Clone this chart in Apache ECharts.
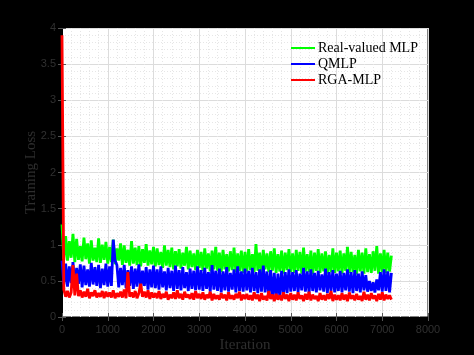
<!DOCTYPE html>
<html>
<head>
<meta charset="utf-8">
<script src="https://cdn.jsdelivr.net/npm/echarts@6/dist/echarts.min.js"></script>
<style>
  html, body { margin: 0; padding: 0; background: #000; }
  #chart { width: 474px; height: 355px; }
</style>
</head>
<body>
<div id="chart"></div>
<script>
// one sample every 40 iterations, 0..7200
const step = 40
const seriesNames = ['Real-valued MLP', 'QMLP', 'RGA-MLP']

const realMlp = [
  1.28, 0.80, 1.12, 0.78, 1.05, 0.82, 1.15, 0.76, 1.08, 0.79, 0.98, 0.77, 1.10, 0.80, 1.02, 0.74, 1.06, 0.78, 0.96, 0.76, 1.09, 0.75, 1.00, 0.79, 1.04, 0.74,
  0.97, 0.76, 1.07, 0.73, 0.95, 0.78, 1.02, 0.72, 0.99, 0.75, 0.93, 0.71, 1.05, 0.74, 0.96, 0.72, 0.98, 0.70, 0.94, 0.75, 1.01, 0.71, 0.92, 0.73, 0.97,
  0.70, 0.95, 0.72, 0.90, 0.68, 0.99, 0.71, 0.93, 0.69, 0.96, 0.66, 0.91, 0.70, 0.94, 0.67, 0.89, 0.71, 0.97, 0.66, 0.92, 0.69, 0.88, 0.65, 0.93, 0.68,
  0.90, 0.64, 0.95, 0.67, 0.88, 0.63, 0.92, 0.66, 0.97, 0.64, 0.89, 0.62, 0.93, 0.66, 0.87, 0.63, 0.91, 0.65, 0.96, 0.62, 0.88, 0.64, 0.92, 0.61, 0.90,
  0.63, 0.94, 0.65, 0.87, 0.62, 1.01, 0.64, 0.89, 0.61, 0.93, 0.66, 0.88, 0.62, 0.91, 0.64, 0.95, 0.61, 0.87, 0.63, 0.92, 0.60, 0.89, 0.65, 0.94, 0.62,
  0.88, 0.61, 0.93, 0.64, 0.90, 0.60, 0.96, 0.63, 0.87, 0.62, 0.92, 0.59, 0.89, 0.64, 0.94, 0.61, 0.88, 0.63, 0.91, 0.60, 0.86, 0.62, 0.95, 0.61, 0.89,
  0.63, 0.92, 0.60, 0.88, 0.64, 0.97, 0.61, 0.90, 0.62, 0.86, 0.59, 0.93, 0.63, 0.89, 0.60, 0.95, 0.62, 0.87, 0.61, 0.91, 0.64, 0.98, 0.60, 0.88, 0.62, 0.93, 0.61, 0.89, 0.63, 0.85
]

const qmlp = [
  0.78, 0.45, 0.74, 0.42, 0.70, 0.47, 0.76, 0.43, 0.68, 0.46, 0.73, 0.41, 0.71, 0.44, 0.66, 0.42, 0.75, 0.45, 0.69, 0.43, 0.72, 0.40, 0.67, 0.44, 0.74, 0.42,
  0.70, 0.43, 1.07, 0.78, 0.72, 0.41, 0.68, 0.44, 0.72, 0.40, 0.65, 0.43, 0.70, 0.39, 0.67, 0.42, 0.73, 0.40, 0.64, 0.43, 0.69, 0.38, 0.66, 0.41, 0.71,
  0.40, 0.66, 0.38, 0.70, 0.41, 0.63, 0.37, 0.68, 0.40, 0.64, 0.36, 0.71, 0.39, 0.65, 0.37, 0.69, 0.40, 0.62, 0.36, 0.67, 0.39, 0.64, 0.37, 0.70, 0.38,
  0.65, 0.36, 0.68, 0.39, 0.62, 0.35, 0.72, 0.38, 0.64, 0.36, 0.67, 0.34, 0.63, 0.37, 0.69, 0.35, 0.61, 0.38, 0.66, 0.34, 0.70, 0.36, 0.63, 0.35, 0.67,
  0.37, 0.64, 0.34, 0.68, 0.36, 0.62, 0.33, 0.66, 0.35, 0.71, 0.34, 0.63, 0.30, 0.65, 0.27, 0.61, 0.25, 0.60, 0.28, 0.64, 0.30, 0.62, 0.33, 0.66, 0.35,
  0.62, 0.36, 0.65, 0.34, 0.60, 0.37, 0.68, 0.35, 0.63, 0.33, 0.66, 0.36, 0.61, 0.34, 0.64, 0.37, 0.59, 0.35, 0.67, 0.33, 0.62, 0.36, 0.65, 0.34, 0.60,
  0.36, 0.64, 0.34, 0.61, 0.37, 0.66, 0.35, 0.62, 0.33, 0.65, 0.36, 0.60, 0.34, 0.63, 0.37, 0.58, 0.35, 0.50, 0.36, 0.48, 0.34, 0.52, 0.37, 0.62, 0.35, 0.66, 0.36, 0.63, 0.34, 0.61
]

const rgaMlp = [
  3.90, 0.38, 0.28, 0.36, 0.27, 0.34, 0.72, 0.30, 0.60, 0.29, 0.37, 0.27, 0.35, 0.28, 0.39, 0.26, 0.34, 0.29, 0.37, 0.27, 0.33, 0.28, 0.36, 0.26, 0.35, 0.28,
  0.34, 0.27, 0.37, 0.26, 0.33, 0.28, 0.35, 0.27, 0.38, 0.26, 0.62, 0.28, 0.34, 0.27, 0.36, 0.26, 0.33, 0.46, 0.28, 0.35, 0.27, 0.37, 0.25, 0.34, 0.27,
  0.33, 0.26, 0.36, 0.25, 0.32, 0.27, 0.35, 0.24, 0.31, 0.26, 0.34, 0.25, 0.37, 0.26, 0.32, 0.24, 0.35, 0.27, 0.31, 0.25, 0.33, 0.24, 0.36, 0.26, 0.32,
  0.25, 0.34, 0.24, 0.31, 0.26, 0.35, 0.23, 0.32, 0.25, 0.30, 0.24, 0.33, 0.26, 0.31, 0.23, 0.34, 0.25, 0.30, 0.24, 0.32, 0.26, 0.35, 0.23, 0.31, 0.25,
  0.32, 0.24, 0.30, 0.23, 0.34, 0.25, 0.31, 0.22, 0.33, 0.24, 0.29, 0.23, 0.36, 0.25, 0.31, 0.22, 0.32, 0.24, 0.30, 0.23, 0.34, 0.25, 0.31, 0.22, 0.33,
  0.24, 0.31, 0.23, 0.34, 0.25, 0.30, 0.22, 0.32, 0.24, 0.35, 0.23, 0.31, 0.25, 0.29, 0.22, 0.33, 0.24, 0.30, 0.23, 0.32, 0.25, 0.36, 0.22, 0.31, 0.24,
  0.30, 0.23, 0.33, 0.24, 0.31, 0.22, 0.34, 0.25, 0.30, 0.23, 0.32, 0.24, 0.29, 0.22, 0.35, 0.24, 0.31, 0.23, 0.33, 0.25, 0.30, 0.22, 0.32, 0.24, 0.34, 0.23, 0.31, 0.25, 0.30, 0.24
]

const colors = ['#00ff00', '#0000ff', '#ff0000']
const toPairs = (arr) => arr.map((v, i) => [i * step, v])

const chart = echarts.init(document.getElementById('chart'))

const tickColor = '#303030'
const minorLine = { show: true, lineStyle: { color: '#e6e6e6', type: [1, 2], width: 1 } }

chart.setOption({
  backgroundColor: '#000',
  animation: false,
  grid: {
    left: 62,
    right: 46,
    top: 28,
    bottom: 38,
    outerBoundsMode: 'none',
    show: true,
    backgroundColor: '#fff',
    borderColor: '#000',
  },
  legend: {
    data: seriesNames,
    orient: 'vertical',
    left: 286,
    top: 36,
    itemWidth: 24,
    itemHeight: 2,
    itemGap: 2,
    icon: 'rect',
    textStyle: { fontFamily: 'Liberation Serif', fontSize: 14, color: '#000', padding: [0, 0, 0, -2] },
  },
  xAxis: [
    {
      type: 'value',
      min: 0,
      max: 8000,
      interval: 1000,
      name: 'Iteration',
      nameLocation: 'middle',
      nameGap: 21,
      nameMoveOverlap: false,
      nameTextStyle: { fontFamily: 'Liberation Serif', fontSize: 15, color: '#2e2e2e' },
      axisLine: { lineStyle: { color: '#000' } },
      axisTick: { inside: true, length: 4, lineStyle: { color: '#555' } },
      axisLabel: {
        color: tickColor,
        fontFamily: 'Liberation Sans',
        fontSize: 11,
        margin: 7,
        formatter: (v) => String(v),
      },
      splitLine: { show: true, lineStyle: { color: '#dcdcdc' } },
      minorTick: { show: false, splitNumber: 5 },
      minorSplitLine: minorLine,
    },
    {
      type: 'value',
      position: 'top',
      min: 0,
      max: 8000,
      interval: 1000,
      axisLine: { show: false },
      axisTick: { show: true, inside: true, length: 4, lineStyle: { color: '#555' } },
      axisLabel: { show: false },
      splitLine: { show: false },
    },
  ],
  yAxis: [
    {
      type: 'value',
      min: 0,
      max: 4,
      interval: 0.5,
      name: 'Training Loss',
      nameLocation: 'middle',
      nameGap: 23,
      nameMoveOverlap: false,
      nameTextStyle: { fontFamily: 'Liberation Serif', fontSize: 15, color: '#2e2e2e' },
      axisLine: { show: true, lineStyle: { color: '#000' } },
      axisTick: { show: true, inside: true, length: 4, lineStyle: { color: '#555' } },
      axisLabel: { color: tickColor, fontFamily: 'Liberation Sans', fontSize: 11, margin: 6 },
      splitLine: { show: true, lineStyle: { color: '#dcdcdc' } },
      minorTick: { show: false, splitNumber: 5 },
      minorSplitLine: minorLine,
    },
    {
      type: 'value',
      position: 'right',
      min: 0,
      max: 4,
      interval: 0.5,
      axisLine: { show: false },
      axisTick: { show: true, inside: true, length: 4, lineStyle: { color: '#555' } },
      axisLabel: { show: false },
      splitLine: { show: false },
    },
  ],
  series: [realMlp, qmlp, rgaMlp].map((arr, k) => ({
    name: seriesNames[k],
    type: 'line',
    data: toPairs(arr),
    showSymbol: false,
    sampling: null,
    color: colors[k],
    lineStyle: { color: colors[k], width: 2.8 },
  })),
})
</script>
</body>
</html>
